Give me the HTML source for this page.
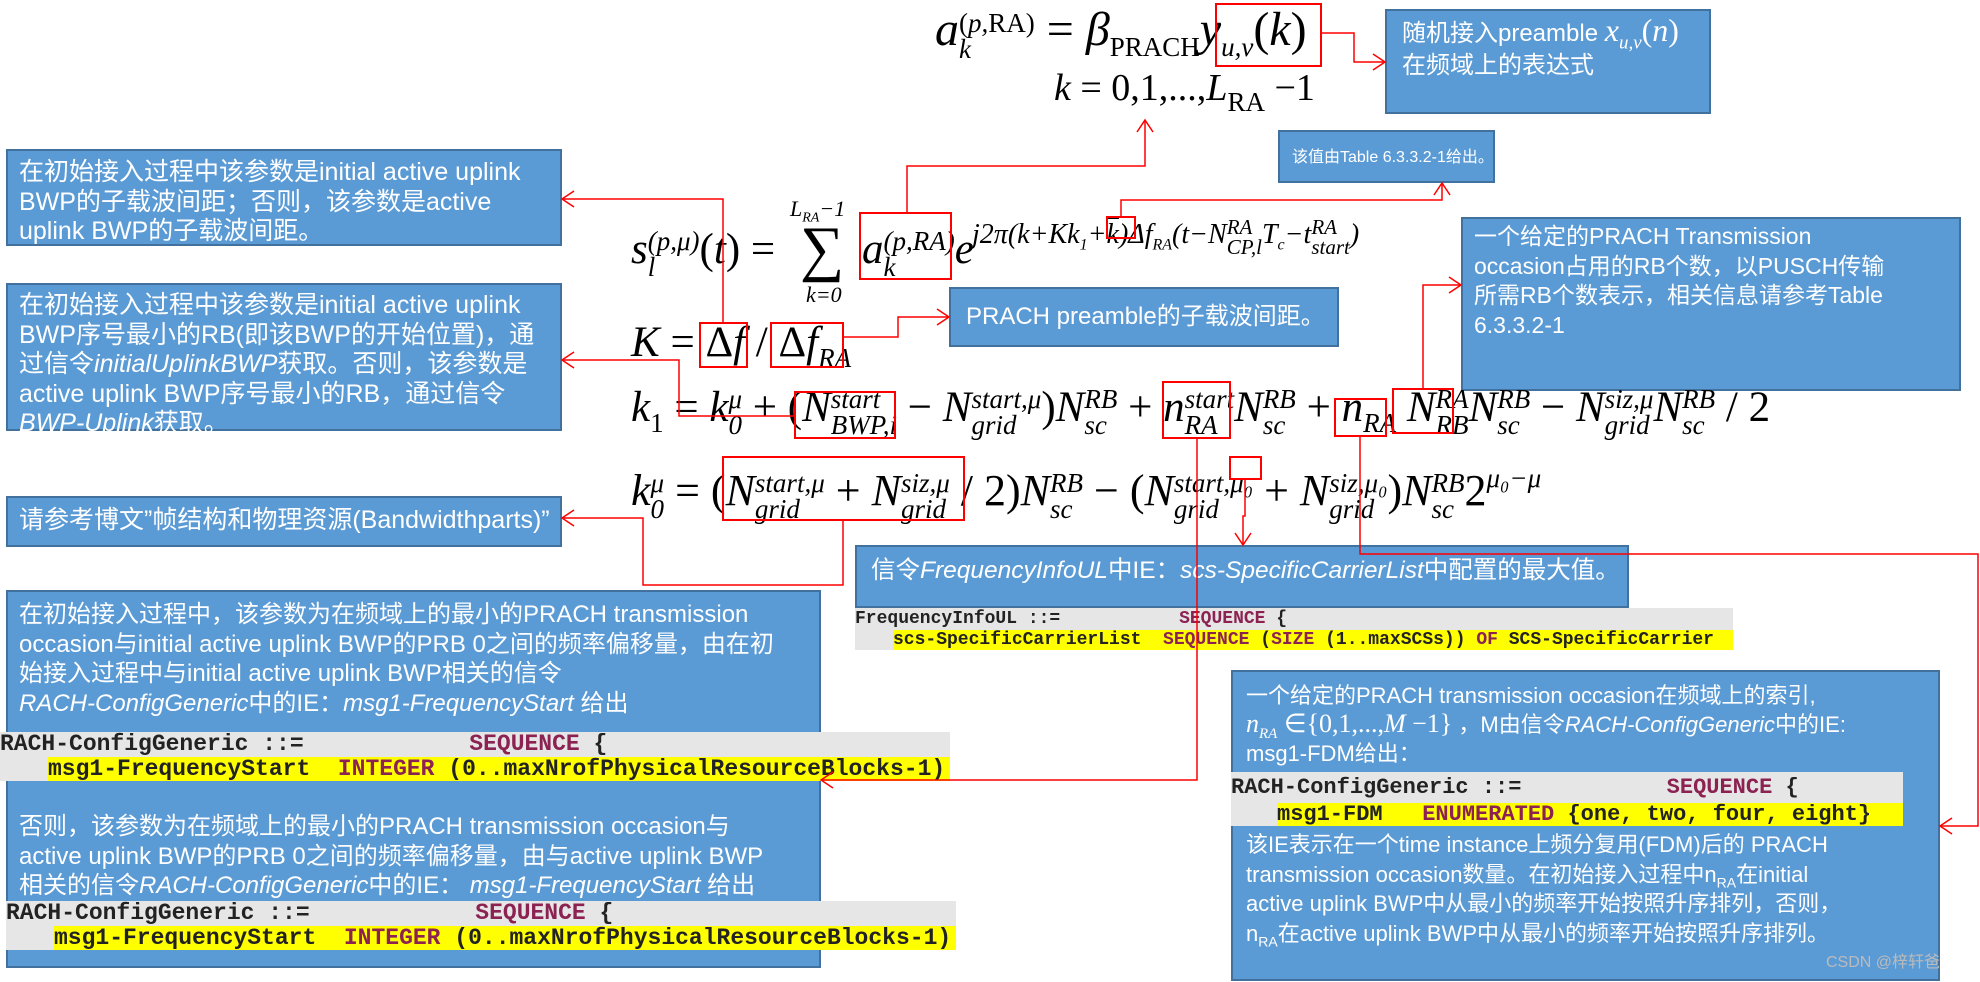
<!DOCTYPE html>
<html><head><meta charset="utf-8">
<style>
body{margin:0;width:1980px;height:982px;background:#fff;position:relative;overflow:hidden;font-family:"Liberation Sans","Noto Sans CJK SC",sans-serif}
.box{position:absolute;background:#5b9bd5;border:2px solid #41719c;box-sizing:border-box}
.t{position:absolute;color:#fff;font-size:22px;line-height:29.5px;white-space:nowrap;font-family:"Liberation Sans","Noto Sans CJK SC",sans-serif}
.t sub{line-height:0}
.code{position:absolute;font-family:"Liberation Mono",monospace;font-weight:bold;white-space:pre;color:#222}
.gray{background:#e6e6e6}
.yel{background:#ffff00}
.kw{color:#8b2252}
.f{position:absolute;font-family:"Liberation Serif",serif;font-size:43px;line-height:50px;white-space:nowrap;color:#000}
.f i{font-style:italic}
.ss{display:inline-block;vertical-align:-13px;font-size:27px;line-height:26px;font-style:italic}
.ss2{display:inline-block;vertical-align:-11px;font-size:21px;line-height:20px;font-style:italic}
.sup{vertical-align:18px;font-size:27px;font-style:italic}
.sub{vertical-align:-11px;font-size:27px}
svg{position:absolute;left:0;top:0}
</style></head><body>

<!-- left boxes -->
<div class="box" style="left:6px;top:149px;width:556px;height:97px"></div>
<div class="t" style="left:19px;top:158px;font-size:25px">在初始接入过程中该参数是initial active uplink<br>BWP的子载波间距；否则，该参数是active<br>uplink BWP的子载波间距。</div>

<div class="box" style="left:6px;top:283px;width:556px;height:148px"></div>
<div class="t" style="left:19px;top:291px;font-size:25px">在初始接入过程中该参数是initial active uplink<br>BWP序号最小的RB(即该BWP的开始位置)，通<br>过信令<i>initialUplinkBWP</i>获取。否则，该参数是<br>active uplink BWP序号最小的RB，通过信令<br><i>BWP-Uplink</i>获取。</div>

<div class="box" style="left:6px;top:496px;width:556px;height:51px"></div>
<div class="t" style="left:19px;top:506px;font-size:25px">请参考博文”帧结构和物理资源(Bandwidthparts)”</div>

<div class="box" style="left:6px;top:590px;width:815px;height:378px"></div>
<div class="t" style="left:19px;top:600px;font-size:24px">在初始接入过程中，该参数为在频域上的最小的PRACH transmission<br>occasion与initial active uplink BWP的PRB 0之间的频率偏移量，由在初<br>始接入过程中与initial active uplink BWP相关的信令<br><i>RACH-ConfigGeneric</i>中的IE：<i>msg1-FrequencyStart</i> 给出</div>
<div class="code gray" style="left:0;top:732px;width:950px;height:25px;font-size:23px;line-height:25px">RACH-ConfigGeneric ::=            <span class="kw">SEQUENCE</span> {</div>
<div class="code gray" style="left:0;top:757px;width:950px;height:24px"></div>
<div class="code yel" style="left:48px;top:757px;width:902px;height:24px;font-size:23px;line-height:24px">msg1-FrequencyStart  <span class="kw">INTEGER</span> (0..maxNrofPhysicalResourceBlocks-1)</div>
<div class="t" style="left:19px;top:812px;font-size:24px">否则，该参数为在频域上的最小的PRACH transmission occasion与<br>active uplink BWP的PRB 0之间的频率偏移量，由与active uplink BWP<br>相关的信令<i>RACH-ConfigGeneric</i>中的IE： <i>msg1-FrequencyStart</i> 给出</div>
<div class="code gray" style="left:6px;top:901px;width:950px;height:25px;font-size:23px;line-height:25px">RACH-ConfigGeneric ::=            <span class="kw">SEQUENCE</span> {</div>
<div class="code gray" style="left:6px;top:926px;width:950px;height:24px"></div>
<div class="code yel" style="left:54px;top:926px;width:902px;height:24px;font-size:23px;line-height:24px">msg1-FrequencyStart  <span class="kw">INTEGER</span> (0..maxNrofPhysicalResourceBlocks-1)</div>

<!-- right boxes -->
<div class="box" style="left:1385px;top:9px;width:326px;height:105px"></div>
<div class="t" style="left:1402px;top:14px;line-height:32px;font-size:24px">随机接入preamble <span style="font-family:'Liberation Serif';font-style:italic;font-size:32px">x<sub style="font-size:19px">u,v</sub></span><span style="font-family:'Liberation Serif';font-size:32px">(<i>n</i>)</span><br>在频域上的表达式</div>

<div class="box" style="left:1278px;top:130px;width:217px;height:53px"></div>
<div class="t" style="left:1292px;top:143px;font-size:16px">该值由Table 6.3.3.2-1给出。</div>

<div class="box" style="left:1461px;top:217px;width:500px;height:174px"></div>
<div class="t" style="left:1474px;top:222px;font-size:23px">一个给定的PRACH Transmission<br>occasion占用的RB个数，以PUSCH传输<br>所需RB个数表示，相关信息请参考Table<br>6.3.3.2-1</div>

<div class="box" style="left:949px;top:287px;width:390px;height:60px"></div>
<div class="t" style="left:966px;top:302px;font-size:24px">PRACH preamble的子载波间距。</div>

<div class="box" style="left:855px;top:545px;width:774px;height:63px"></div>
<div class="t" style="left:871px;top:556px;font-size:24.5px"><span>信令<i>FrequencyInfoUL</i>中IE：<i>scs-SpecificCarrierList</i>中配置的最大值。</span></div>
<div class="code gray" style="left:855px;top:608px;width:878px;height:22px;font-size:18px;line-height:22px">FrequencyInfoUL ::=           <span class="kw">SEQUENCE</span> {</div>
<div class="code gray" style="left:855px;top:630px;width:878px;height:20px"></div>
<div class="code yel" style="left:893px;top:630px;width:840px;height:20px;font-size:18px;line-height:20px">scs-SpecificCarrierList  <span class="kw">SEQUENCE</span> (<span class="kw">SIZE</span> (1..maxSCSs)) <span class="kw">OF</span> SCS-SpecificCarrier</div>

<div class="box" style="left:1231px;top:670px;width:709px;height:311px"></div>
<div class="t" style="left:1246px;top:681px">一个给定的PRACH transmission occasion在频域上的索引,</div>
<div class="t" style="left:1246px;top:710px"><span style="font-family:'Liberation Serif';font-size:26px;line-height:20px"><i>n</i><sub style="font-size:15px"><i>RA</i></sub> ∈{0,1,...,<i>M</i> −1}</span> ，M由信令<i>RACH-ConfigGeneric</i>中的IE:</div>
<div class="t" style="left:1246px;top:739px">msg1-FDM给出：</div>
<div class="code gray" style="left:1231px;top:772px;width:672px;height:31px;font-size:22px;line-height:31px">RACH-ConfigGeneric ::=           <span class="kw">SEQUENCE</span> {</div>
<div class="code gray" style="left:1231px;top:803px;width:672px;height:23px"></div>
<div class="code yel" style="left:1277px;top:803px;width:626px;height:23px;font-size:22px;line-height:23px">msg1-FDM   <span class="kw">ENUMERATED</span> {one, two, four, eight}</div>
<div class="t" style="left:1246px;top:830px">该IE表示在一个time instance上频分复用(FDM)后的 PRACH<br>transmission occasion数量。在初始接入过程中n<sub style="font-size:14px">RA</sub>在initial<br>active uplink BWP中从最小的频率开始按照升序排列，否则，<br>n<sub style="font-size:14px">RA</sub>在active uplink BWP中从最小的频率开始按照升序排列。</div>
<div style="position:absolute;left:1826px;top:948px;font-size:16px;color:#bbb;font-family:'Liberation Sans','Noto Sans CJK SC',sans-serif">CSDN @梓轩爸</div>

<!-- formulas -->
<div class="f" style="left:935px;top:5px;font-size:48px"><i>a</i><span class="ss"><span style="font-style:normal">(</span><i>p</i>,<span style="font-style:normal">RA)</span><br><i>k</i></span> = <i>β</i><span class="sub">PRACH</span><i>y</i><span class="sub"><i>u,v</i></span>(<i>k</i>)</div>
<div class="f" style="left:1054px;top:63px;font-size:38px"><i>k</i> = 0,1,...,<i>L</i><span class="sub">RA</span> −1</div>

<div class="f" style="left:631px;top:225px"><i>s</i><span class="ss">(<i>p</i>,<i>μ</i>)<br><i>l</i></span>(<i>t</i>) =</div>
<div class="f" style="left:800px;top:218px;font-size:62px;line-height:62px">∑</div>
<div style="position:absolute;left:790px;top:196px;font-family:'Liberation Serif';font-size:22px;font-style:italic">L<sub style="font-size:14px">RA</sub>−1</div>
<div style="position:absolute;left:806px;top:282px;font-family:'Liberation Serif';font-size:22px;font-style:italic">k=0</div>
<div class="f" style="left:862px;top:225px"><i>a</i><span class="ss">(<i>p</i>,<i>RA</i>)<br><i>k</i></span><i>e</i></div>
<div style="position:absolute;left:972px;top:217px;font-family:'Liberation Serif';font-size:28px;font-style:italic;white-space:nowrap"><i>j</i>2<i>π</i>(<i>k</i>+<i>Kk</i><sub style="font-size:16px">1</sub>+<span style="text-decoration:overline">k</span>)Δ<i>f</i><sub style="font-size:16px">RA</sub>(<i>t</i>−<i>N</i><span class="ss2">RA<br>CP,l</span><i>T</i><sub style="font-size:16px">c</sub>−<i>t</i><span class="ss2">RA<br>start</span>)</div>

<div class="f" style="left:631px;top:318px"><i>K</i> = Δ<i>f</i> / Δ<i>f</i><span class="sub"><i>RA</i></span></div>

<div class="f" style="left:631px;top:383px"><i>k</i><span class="sub">1</span> = <i>k</i><span class="ss"><i>μ</i><br>0</span> + (<i>N</i><span class="ss">start<br>BWP,i</span> − <i>N</i><span class="ss">start,μ<br>grid</span>)<i>N</i><span class="ss">RB<br>sc</span> + <i>n</i><span class="ss">start<br>RA</span><i>N</i><span class="ss">RB<br>sc</span> + <i>n</i><span class="sub"><i>RA</i></span> <i>N</i><span class="ss">RA<br>RB</span><i>N</i><span class="ss">RB<br>sc</span> − <i>N</i><span class="ss">siz,μ<br>grid</span><i>N</i><span class="ss">RB<br>sc</span> / 2</div>

<div class="f" style="left:631px;top:453px;font-size:44px"><i>k</i><span class="ss"><i>μ</i><br>0</span> = (<i>N</i><span class="ss">start,μ<br>grid</span> + <i>N</i><span class="ss">siz,μ<br>grid</span> / 2)<i>N</i><span class="ss">RB<br>sc</span> − (<i>N</i><span class="ss">start,μ₀<br>grid</span> + <i>N</i><span class="ss">siz,μ₀<br>grid</span>)<i>N</i><span class="ss">RB<br>sc</span>2<span class="sup">μ₀−μ</span></div>

<svg width="1980" height="982">
<g fill="none" stroke="#ff0000" stroke-width="2">
<rect x="1216" y="4" width="105" height="62"/>
<rect x="860" y="213" width="91" height="66"/>
<rect x="1107" y="217" width="28" height="21"/>
<rect x="700" y="323" width="47" height="44"/>
<rect x="771" y="323" width="72" height="44"/>
<rect x="795" y="392" width="100" height="46"/>
<rect x="1163" y="382" width="67" height="56"/>
<rect x="1335" y="399" width="51" height="37"/>
<rect x="1393" y="389" width="60" height="44"/>
<rect x="723" y="457" width="241" height="63"/>
<rect x="1230" y="457" width="31" height="22"/>
</g>
<g fill="none" stroke="#ff0000" stroke-width="1.5">
<polyline points="723,323 723,199 562,199"/><polyline points="574,191 562,199 574,207"/>
<polyline points="907,213 907,166 1145,166 1145,120"/><polyline points="1137,132 1145,120 1153,132"/>
<polyline points="1321,33 1354,33 1354,62 1385,62"/><polyline points="1373,54 1385,62 1373,70"/>
<polyline points="1121,217 1121,200 1442,200 1442,183"/><polyline points="1434,195 1442,183 1450,195"/>
<polyline points="843,337 898,337 898,317 949,317"/><polyline points="937,309 949,317 937,325"/>
<polyline points="795,416 679,416 679,360 562,360"/><polyline points="574,352 562,360 574,368"/>
<polyline points="843,520 843,585 643,585 643,518 562,518"/><polyline points="574,510 562,518 574,526"/>
<polyline points="1423,389 1423,285 1461,285"/><polyline points="1449,277 1461,285 1449,293"/>
<polyline points="1197,438 1197,780 821,780"/><polyline points="833,772 821,780 833,788"/>
<polyline points="1245,479 1245,516 1243,516 1243,545"/><polyline points="1235,533 1243,545 1251,533"/>
<polyline points="1360,436 1360,554 1978,554 1978,826 1940,826"/><polyline points="1952,818 1940,826 1952,834"/>
</g>
</svg>
</body></html>
